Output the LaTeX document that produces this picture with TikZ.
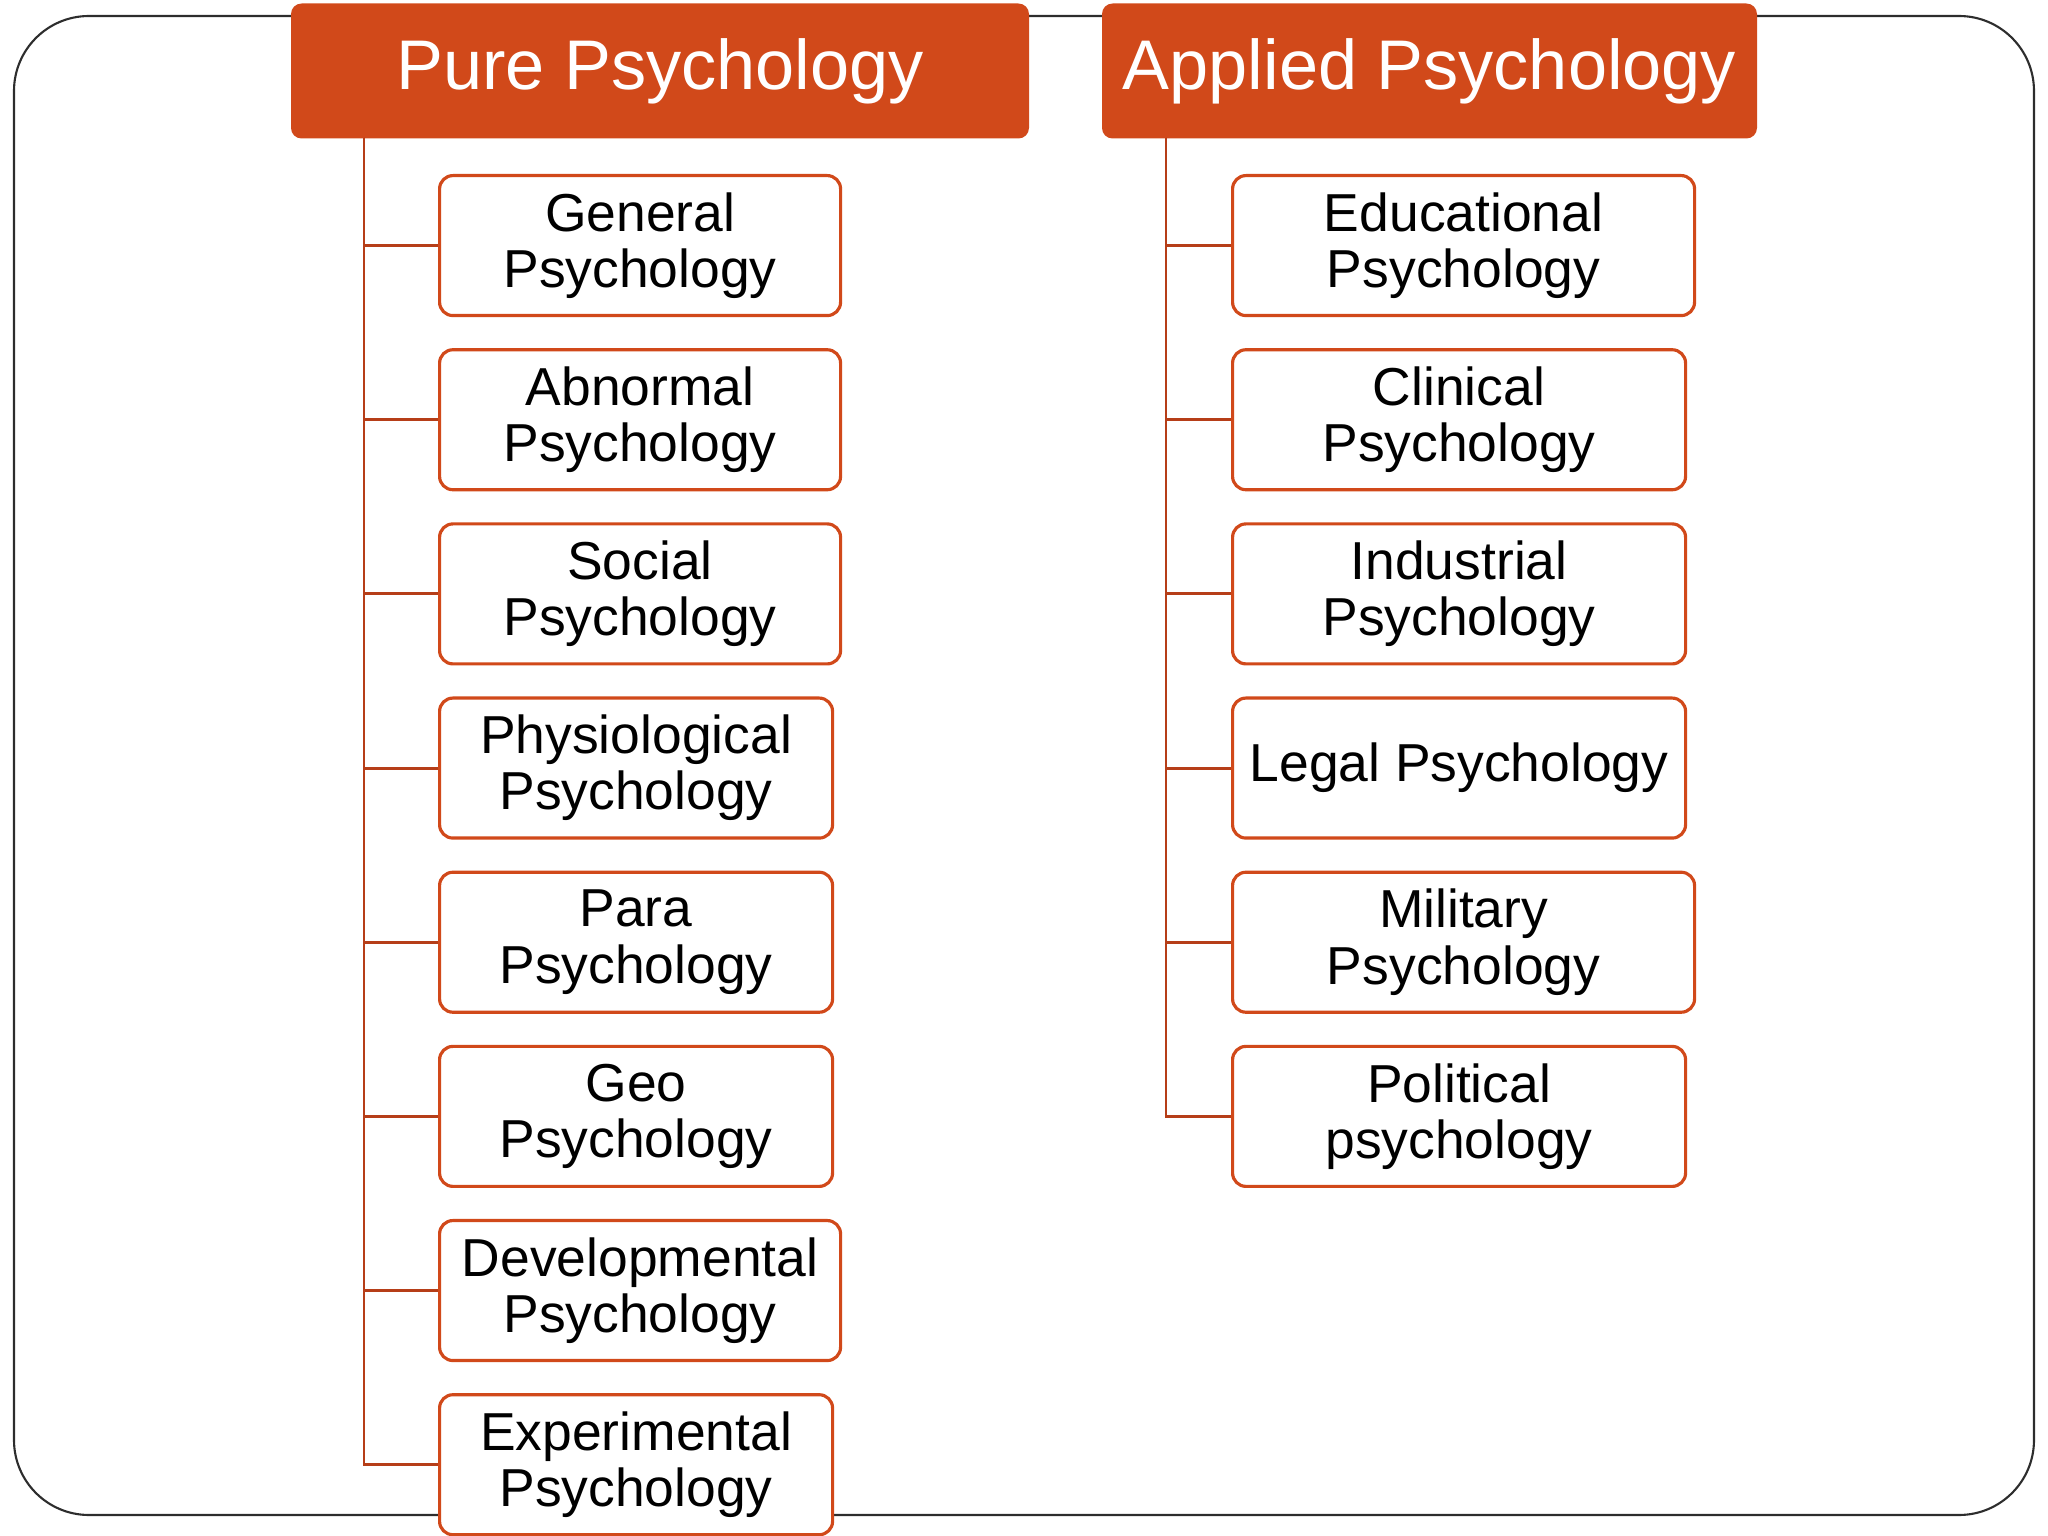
\documentclass[tikz,border=0pt]{standalone}
\usepackage{fontspec}
\setmainfont{Liberation Sans}
\definecolor{rust}{RGB}{209,73,26}
\definecolor{rustdark}{RGB}{182,62,24}
\definecolor{framegray}{RGB}{45,45,45}
\usetikzlibrary{positioning}
\tikzset{
  header/.style={rectangle, rounded corners=3pt, fill=rust, text=white,
    font=\fontsize{20}{24}\selectfont, minimum height=1.35cm, inner sep=2pt},
  branch/.style={rectangle, rounded corners=3.8pt, draw=rust, line width=0.9pt,
    fill=white, text=black, font=\fontsize{15.2}{16}\selectfont, align=center,
    minimum height=1.40cm, inner sep=2pt},
  link/.style={draw=rustdark, line width=0.85pt},
}

\begin{document}
\begin{tikzpicture}[node distance=0.31cm]
  \useasboundingbox (0,0) rectangle (20.48,-15.36);
  \draw[framegray, line width=0.6pt, rounded corners=0.75cm] (0.14,-0.16) rectangle (20.34,-15.15);
  \node[header, minimum width=7.38cm] (pure) at (6.60,-0.71) {Pure Psychology};
  \node[header, minimum width=6.55cm] (applied) at (14.295,-0.71) {Applied Psychology};
  % pure branches
  \node[branch, minimum width=4.01cm, anchor=north west] (gen) at (4.38,-1.74) {General\\Psychology};
  \node[branch, minimum width=4.01cm, below=of gen.south west, anchor=north west] (abn) {Abnormal\\Psychology};
  \node[branch, minimum width=4.01cm, below=of abn.south west, anchor=north west] (soc) {Social\\Psychology};
  \node[branch, minimum width=3.93cm, below=of soc.south west, anchor=north west] (phy) {Physiological\\Psychology};
  \node[branch, minimum width=3.93cm, below=of phy.south west, anchor=north west] (par) {Para\\Psychology};
  \node[branch, minimum width=3.93cm, below=of par.south west, anchor=north west] (geo) {Geo\\Psychology};
  \node[branch, minimum width=4.01cm, below=of geo.south west, anchor=north west] (dev) {Developmental\\Psychology};
  \node[branch, minimum width=3.93cm, below=of dev.south west, anchor=north west] (exp) {Experimental\\Psychology};
  % applied branches
  \node[branch, minimum width=4.62cm, anchor=north west] (edu) at (12.31,-1.74) {Educational\\Psychology};
  \node[branch, minimum width=4.53cm, below=of edu.south west, anchor=north west] (cli) {Clinical\\Psychology};
  \node[branch, minimum width=4.53cm, below=of cli.south west, anchor=north west] (ind) {Industrial\\Psychology};
  \node[branch, minimum width=4.53cm, below=of ind.south west, anchor=north west] (leg) {Legal Psychology};
  \node[branch, minimum width=4.62cm, below=of leg.south west, anchor=north west] (mil) {Military\\Psychology};
  \node[branch, minimum width=4.53cm, below=of mil.south west, anchor=north west] (pol) {Political\\psychology};
  % trunks
  \coordinate (ptrunk) at (3.64,-1.38);
  \coordinate (atrunk) at (11.66,-1.38);
  \draw[link] (ptrunk) |- (gen.west); \draw[link] (ptrunk) |- (abn.west);
  \draw[link] (ptrunk) |- (soc.west); \draw[link] (ptrunk) |- (phy.west);
  \draw[link] (ptrunk) |- (par.west); \draw[link] (ptrunk) |- (geo.west);
  \draw[link] (ptrunk) |- (dev.west); \draw[link] (ptrunk) |- (exp.west);
  \draw[link] (atrunk) |- (edu.west); \draw[link] (atrunk) |- (cli.west);
  \draw[link] (atrunk) |- (ind.west); \draw[link] (atrunk) |- (leg.west);
  \draw[link] (atrunk) |- (mil.west); \draw[link] (atrunk) |- (pol.west);
\end{tikzpicture}
\end{document}
